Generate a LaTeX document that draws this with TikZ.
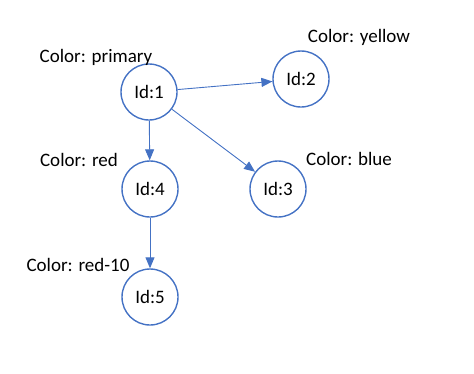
\documentclass[tikz,border=0pt]{standalone}
\usepackage{fontspec}
\setmainfont{Carlito}
\usetikzlibrary{arrows.meta,positioning}
\definecolor{LinkBlue}{RGB}{68,114,196}

\begin{document}
\begin{tikzpicture}[
  x=1pt,y=-1pt,
  vertex/.style={draw=LinkBlue,line width=1.4pt,circle,minimum size=56pt,inner sep=0pt,font=\fontsize{19}{22}\selectfont},
  tag/.style={font=\fontsize{19}{22}\selectfont,inner sep=0pt},
  link/.style={draw=LinkBlue,line width=0.9pt,-{Triangle[length=11pt,width=9pt]}}
]
  \useasboundingbox (0,0) rectangle (474,373);
  \node[vertex] (v1) at (149,92) {Id:1};
  \node[vertex] (v2) at (301,79) {Id:2};
  \node[vertex] (v3) at (278,189) {Id:3};
  \node[vertex] (v4) at (150,189) {Id:4};
  \node[vertex] (v5) at (150,297) {Id:5};
  \node[tag] (c1) at (96,57) {Color: primary};
  \node[tag] (c2) at (359,37) {Color: yellow};
  \node[tag] (c3) at (349,159) {Color: blue};
  \node[tag] (c4) at (79,160) {Color: red};
  \node[tag] (c5) at (78,265) {Color: red-10};
  \draw[link] (v1) -- (v2);
  \draw[link] (v1) -- (v3);
  \draw[link] (v1) -- (v4);
  \draw[link] (v4) -- (v5);
\end{tikzpicture}
\end{document}
